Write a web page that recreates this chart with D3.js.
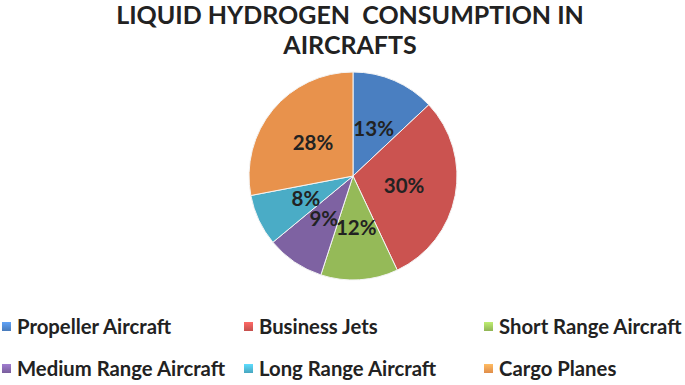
<!DOCTYPE html>
<html>
<head>
<meta charset="utf-8">
<script src="https://cdn.jsdelivr.net/npm/d3@7"></script>
<style>
  html, body { margin: 0; padding: 0; background: #fff; }
  svg { display: block; }
  text { font-family: Lato, "Open Sans", sans-serif; font-weight: bold; }
</style>
</head>
<body>
<svg id="chart" width="685" height="385"></svg>
<script>
const titleLines = ["LIQUID HYDROGEN  CONSUMPTION IN", "AIRCRAFTS"];
const categories = ["Propeller Aircraft", "Business Jets", "Short Range Aircraft",
                    "Medium Range Aircraft", "Long Range Aircraft", "Cargo Planes"];
const values = [13, 30, 12, 9, 8, 28];
const colors = ["#5088CF", "#DA5956", "#A0C85F", "#8769AE", "#4FB9D5", "#F99D52"];

const svg = d3.select("#chart");
const defs = svg.append("defs");

const cx = 353, cy = 176, R = 104;

colors.forEach((c, i) => {
  const g = defs.append("radialGradient").attr("id", "g" + i)
    .attr("gradientUnits", "userSpaceOnUse")
    .attr("cx", cx).attr("cy", cy).attr("r", R);
  g.append("stop").attr("offset", "0%").attr("stop-color", c);
  g.append("stop").attr("offset", "89%").attr("stop-color", c);
  g.append("stop").attr("offset", "95%").attr("stop-color", d3.color(c).brighter(0.2).formatHex());
  g.append("stop").attr("offset", "100%").attr("stop-color", d3.color(c).darker(0.2).formatHex());
  const lg = defs.append("linearGradient").attr("id", "m" + i)
    .attr("x1", 0).attr("y1", 0).attr("x2", 0).attr("y2", 1);
  lg.append("stop").attr("offset", "0%").attr("stop-color", d3.color(c).brighter(0.5).formatHex());
  lg.append("stop").attr("offset", "100%").attr("stop-color", d3.color(c).darker(0.3).formatHex());
});

// Title
svg.append("g").selectAll("text").data(titleLines).join("text")
  .attr("x", 350).attr("y", (d, i) => 24 + i * 30)
  .attr("text-anchor", "middle")
  .attr("font-size", 25)
  .attr("fill", "#222")
  .style("white-space", "pre")
  .attr("xml:space", "preserve")
  .text(d => d);

// Pie
const pie = d3.pie().sort(null).value(d => d)
  .startAngle(0).endAngle(2 * Math.PI);
const arc = d3.arc().innerRadius(0).outerRadius(R);
const arcs = pie(values);
const gp = svg.append("g").attr("transform", `translate(${cx},${cy})`);
gp.selectAll("path").data(arcs).join("path")
  .attr("d", arc)
  .attr("fill", (d, i) => `url(#g${i})`)
  .attr("stroke", "#f4f4f4").attr("stroke-width", 1);

gp.selectAll("text").data(arcs).join("text")
  .attr("transform", d => `translate(${arc.centroid(d)})`)
  .attr("text-anchor", "middle")
  .attr("dy", "0.36em")
  .attr("font-size", 20.5)
  .attr("fill", "#222")
  .text(d => d.data + "%");

// Legend
const colX = [2, 244, 484];
const rowY = [327, 369];
const lg = svg.append("g");
const items = lg.selectAll("g").data(categories).join("g")
  .attr("transform", (d, i) => `translate(${colX[i % 3]},${rowY[Math.floor(i / 3)]})`);
items.append("rect").attr("x", 0).attr("y", -5).attr("width", 9).attr("height", 9)
  .attr("fill", (d, i) => `url(#m${i})`);
items.append("text").attr("x", 15).attr("dy", "0.36em")
  .attr("font-size", 20.3).attr("fill", "#222")
  .text(d => d);
</script>
</body>
</html>
